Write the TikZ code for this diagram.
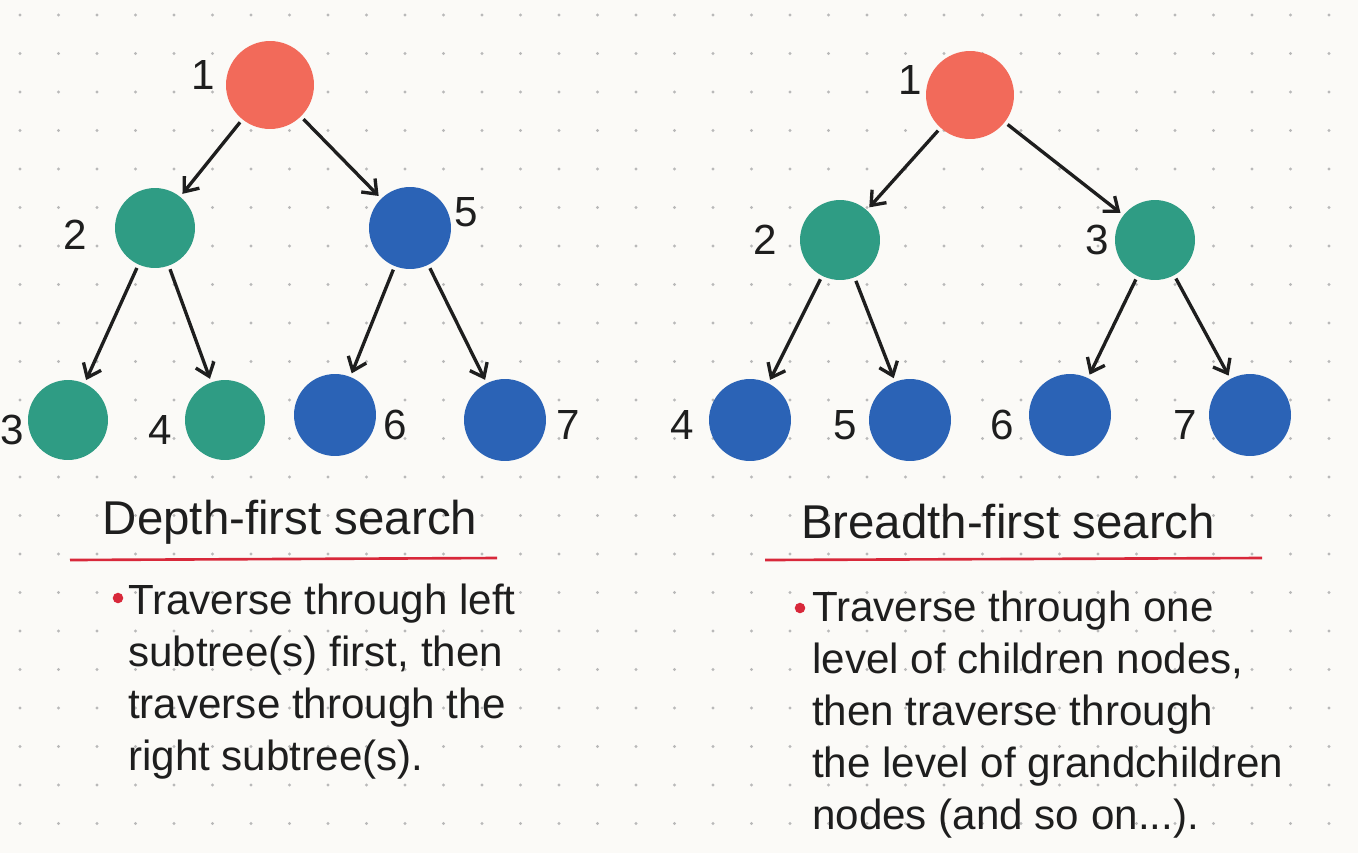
\documentclass[tikz,border=0pt]{standalone}
\usepackage{fontspec}
\setmainfont{Liberation Sans}
\usetikzlibrary{arrows.meta}
\definecolor{paper}{HTML}{FBFAF7}
\definecolor{red1}{HTML}{F26A5A}
\definecolor{teal1}{HTML}{2F9C84}
\definecolor{blue1}{HTML}{2B63B6}
\definecolor{ink}{HTML}{1E1E1E}
\definecolor{uline}{HTML}{D8283A}
\begin{document}
\begin{tikzpicture}[x=0.02cm,y=-0.02cm,
  circ/.style={circle,minimum size=#1*0.04cm,inner sep=0pt},
  rn/.style={circ=44,fill=red1},
  tn/.style={circ=40,fill=teal1},
  bn/.style={circ=41,fill=blue1},
  lab/.style={font=\fontsize{24}{24}\selectfont,text=ink},
  edge/.style={draw=ink,line width=1.9pt,-{Straight Barb[length=7pt,width=11pt]},shorten >=2pt,shorten <=2pt},
  ttl/.style={font=\fontsize{27}{27}\selectfont,text=ink},
  body/.style={font=\fontsize{24}{29.5}\selectfont,text=ink,align=left,anchor=north west}]
\fill[paper] (0,0) rectangle (1358,853);
\useasboundingbox (0,0) rectangle (1358,853);
\foreach \i in {0,...,35}{\foreach \j in {0,...,22}{\fill[gray!55] (20+\i*38.5,15+\j*38.5) circle (0.9pt);}}
% left tree
\node[rn] (a1) at (270,85) {};
\node[tn] (a2) at (155,228) {};
\node[bn] (a5) at (410,228) {};
\node[tn] (a3) at (68,420) {};
\node[tn] (a4) at (225,420) {};
\node[bn] (a6) at (335,415) {};
\node[bn] (a7) at (505,420) {};
\foreach \p/\c in {a1/a2,a1/a5,a2/a3,a2/a4,a5/a6,a5/a7}{\draw[edge] (\p) -- (\c);}
\node[lab] at (203,75) {1};
\node[lab] at (75,235) {2};
\node[lab] at (466,212) {5};
\node[lab] at (12,430) {3};
\node[lab] at (160,430) {4};
\node[lab] at (395,425) {6};
\node[lab] at (568,425) {7};
% right tree
\node[rn] (b1) at (970,95) {};
\node[tn] (b2) at (840,240) {};
\node[tn] (b3) at (1155,240) {};
\node[bn] (b4) at (750,420) {};
\node[bn] (b5) at (910,420) {};
\node[bn] (b6) at (1070,415) {};
\node[bn] (b7) at (1250,415) {};
\foreach \p/\c in {b1/b2,b1/b3,b2/b4,b2/b5,b3/b6,b3/b7}{\draw[edge] (\p) -- (\c);}
\node[lab] at (910,80) {1};
\node[lab] at (765,240) {2};
\node[lab] at (1097,240) {3};
\node[lab] at (682,425) {4};
\node[lab] at (845,425) {5};
\node[lab] at (1002,425) {6};
\node[lab] at (1185,425) {7};
% titles
\node[ttl] (t1) at (290,522) {Depth-first search};
\draw[uline,line width=1.5pt] (70,560) -- (497,558);
\node[ttl] (t2) at (1008,522) {Breadth-first search};
\draw[uline,line width=1.5pt] (765,560) -- (1262,558);
% bullets
\fill[uline] (118,598) circle (3pt);
\node[body] (d1) at (122,578) {Traverse through left\\subtree(s) first, then\\traverse through the\\right subtree(s).};
\fill[uline] (800,608) circle (3pt);
\node[body] (d2) at (806,585) {Traverse through one\\level of children nodes,\\then traverse through\\the level of grandchildren\\nodes (and so on...).};
\end{tikzpicture}
\end{document}
